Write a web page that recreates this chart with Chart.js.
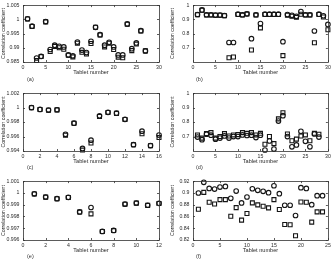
<!DOCTYPE html>
<html>
<head>
<meta charset="utf-8">
<script src="https://cdn.jsdelivr.net/npm/chart.js@4.4.0/dist/chart.umd.min.js"></script>
<style>
  body { margin: 0; background: #fff; width: 333px; height: 265px; position: relative; overflow: hidden;
         font-family: "Liberation Sans", Arial, sans-serif; }
  canvas { position: absolute; }
  .tag { position: absolute; font-size: 5.5px; color: #333; line-height: 6px; }
</style>
</head>
<body>
<canvas id="pa" width="165" height="88" style="left:0;top:0"></canvas>
<canvas id="pb" width="168" height="88" style="left:165px;top:0"></canvas>
<canvas id="pc" width="165" height="88" style="left:0;top:88px"></canvas>
<canvas id="pd" width="168" height="88" style="left:165px;top:88px"></canvas>
<canvas id="pe" width="165" height="88" style="left:0;top:176px"></canvas>
<canvas id="pf" width="168" height="88" style="left:165px;top:176px"></canvas>
<div class="tag" style="left:27px;top:76px">(a)</div>
<div class="tag" style="left:196px;top:76px">(b)</div>
<div class="tag" style="left:27px;top:164px">(c)</div>
<div class="tag" style="left:196px;top:164px">(d)</div>
<div class="tag" style="left:27px;top:253px">(e)</div>
<div class="tag" style="left:196px;top:253px">(f)</div>
<script>
// panel (a)
const tabletA = [1,2,3,4,5,6,7,8,9,10,11,12,13,14,15,16,17,18,19,20,21,22,23,24,25,26,27];
const circA = [1.0002,0.9976,0.9864,0.9870,0.9992,0.9894,0.9909,0.9905,0.9903,0.9875,0.9872,0.9920,0.9892,0.9883,0.9923,0.9972,0.9946,0.9909,0.9919,0.9903,0.9875,0.9875,0.9984,0.9897,0.9917,0.9960,0.9889];
const sqA   = [1.0001,0.9975,0.9855,0.9869,0.9991,0.9887,0.9905,0.9900,0.9895,0.9874,0.9868,0.9916,0.9884,0.9878,0.9915,0.9972,0.9945,0.9903,0.9916,0.9894,0.9867,0.9865,0.9983,0.9890,0.9913,0.9959,0.9889];
const xTicksA = [0,5,10,15,20,25,30];
const yTicksA = [0.985,0.99,0.995,1,1.005];

// panel (b)
const tabletB = [1,2,3,4,5,6,7,8,9,10,11,12,13,14,15,16,17,18,19,20,21,22,23,24,25,26,27,28,29,30];
const circB = [0.934,0.966,0.932,0.932,0.930,0.930,0.927,0.737,0.737,0.936,0.932,0.939,0.764,0.932,0.870,0.936,0.936,0.936,0.936,0.743,0.934,0.928,0.921,0.955,0.932,0.932,0.818,0.936,0.925,0.864];
const sqB   = [0.932,0.964,0.930,0.930,0.929,0.929,0.925,0.630,0.635,0.934,0.930,0.937,0.684,0.930,0.840,0.934,0.934,0.934,0.934,0.645,0.929,0.922,0.914,0.936,0.930,0.930,0.735,0.934,0.916,0.827];
const xTicksB = [0,5,10,15,20,25,30];
const yTicksB = [0.7,0.8,0.9,1];

// panel (c)
const tabletC = [1,2,3,4,5,6,7,8,9,10,11,12,13,14,15,16];
const circC = [1.0000,0.99975,0.99966,0.99970,0.99630,0.99785,0.99435,0.99550,0.99886,0.99935,0.99922,0.99838,0.99488,0.99674,0.99475,0.99621];
const sqC   = [0.99997,0.99973,0.99964,0.99968,0.99617,0.99783,0.99413,0.99510,0.99877,0.99933,0.99920,0.99836,0.99486,0.99639,0.99473,0.99586];
const xTicksC = [0,2,4,6,8,10,12,14,16];
const yTicksC = [0.994,0.996,0.998,1,1.002];

// panel (d)
const tabletD = [1,2,3,4,5,6,7,8,9,10,11,12,13,14,15,16,17,18,19,20,21,22,23,24,25,26,27,28];
const circD = [0.696,0.678,0.716,0.709,0.682,0.689,0.704,0.689,0.700,0.700,0.711,0.707,0.709,0.693,0.709,0.607,0.669,0.613,0.807,0.844,0.700,0.629,0.642,0.736,0.667,0.629,0.718,0.696];
const sqD   = [0.711,0.689,0.720,0.727,0.689,0.700,0.720,0.704,0.711,0.713,0.727,0.722,0.727,0.711,0.722,0.647,0.700,0.651,0.822,0.864,0.718,0.671,0.682,0.704,0.711,0.671,0.722,0.716];
const xTicksD = [0,5,10,15,20,25,30];
const yTicksD = [0.7,0.8,0.9,1];

// panel (e)
const tabletE = [1,2,3,4,5,6,7,8,9,10,11,12];
const circE = [0.99992,0.99965,0.99951,0.99962,0.99838,0.99876,0.99673,0.99681,0.99905,0.99914,0.99895,0.99911];
const sqE   = [0.99991,0.99964,0.99950,0.99961,0.99837,0.99822,0.99672,0.99680,0.99904,0.99913,0.99894,0.99910];
const xTicksE = [0,2,4,6,8,10,12];
const yTicksE = [0.996,0.997,0.998,0.999,1,1.001];

// panel (f)
const tabletF = [1,2,3,4,5,6,7,8,9,10,11,12,13,14,15,16,17,18,19,20,21,22,23,24];
const circF = [0.8998,0.9180,0.9076,0.9065,0.9099,0.9110,0.8908,0.9031,0.8829,0.8930,0.9070,0.9043,0.9026,0.9003,0.9121,0.8987,0.8790,0.8790,0.8616,0.9088,0.9076,0.8800,0.8953,0.8953];
const sqF   = [0.8722,0.9009,0.8840,0.8812,0.8885,0.8885,0.8604,0.8750,0.8537,0.8650,0.8830,0.8796,0.8773,0.8745,0.8885,0.8717,0.8464,0.8458,0.8273,0.8846,0.8840,0.8503,0.8678,0.8678];
const xTicksF = [0,5,10,15,20,25];
const yTicksF = [0.82,0.84,0.86,0.88,0.9,0.92];

const ink = '#151515';
const textCol = '#2a2a2a';

// box around plot area with inward tick marks on all four sides (matlab look)
const boxPlugin = {
  id: 'box',
  afterDraw(chart) {
    const {ctx, chartArea: a, scales} = chart;
    ctx.save();
    ctx.strokeStyle = '#333';
    ctx.lineWidth = 0.8;
    ctx.strokeRect(Math.round(a.left) + 0.5, Math.round(a.top) + 0.5,
                   Math.round(a.right - a.left), Math.round(a.bottom - a.top));
    ctx.beginPath();
    scales.x.ticks.forEach(t => {
      const px = Math.round(scales.x.getPixelForValue(t.value)) + 0.5;
      ctx.moveTo(px, a.bottom); ctx.lineTo(px, a.bottom - 2);
      ctx.moveTo(px, a.top); ctx.lineTo(px, a.top + 2);
    });
    scales.y.ticks.forEach(t => {
      const py = Math.round(scales.y.getPixelForValue(t.value)) + 0.5;
      ctx.moveTo(a.left, py); ctx.lineTo(a.left + 2, py);
      ctx.moveTo(a.right, py); ctx.lineTo(a.right - 2, py);
    });
    ctx.stroke();
    ctx.restore();
  }
};

function fmt(v) {
  return String(Number(v.toFixed(5)));
}

function makePanel(id, xs, circ, sq, xTicks, yTicks, yMin, yMax, geo) {
  const toPts = ys => xs.map((x, i) => ({x: x, y: ys[i]}));
  new Chart(document.getElementById(id), {
    type: 'scatter',
    data: {
      datasets: [
        { data: toPts(circ), pointStyle: 'circle', pointRadius: 2.3, borderWidth: 1.1,
          borderColor: ink, backgroundColor: 'rgba(0,0,0,0)', clip: false },
        { data: toPts(sq), pointStyle: 'rect', pointRadius: 2.8, borderWidth: 1.1,
          borderColor: ink, backgroundColor: 'rgba(0,0,0,0)', clip: false }
      ]
    },
    options: {
      responsive: false,
      animation: false,
      events: [],
      layout: { padding: { left: 0, top: geo.top, right: geo.right, bottom: geo.bottom } },
      plugins: { legend: { display: false }, tooltip: { enabled: false } },
      scales: {
        x: {
          type: 'linear',
          min: xTicks[0],
          max: xTicks[xTicks.length - 1],
          grid: { display: false, drawTicks: false },
          border: { display: false },
          afterBuildTicks: s => { s.ticks = xTicks.map(v => ({value: v})); },
          afterFit: s => { s.height = 14.3; s.paddingLeft = 0; s.paddingRight = 0; },
          ticks: { font: { size: 5.2, family: 'Liberation Sans' }, color: textCol, padding: 2,
                   maxRotation: 0, callback: v => fmt(v) },
          title: { display: true, text: 'Tablet number', color: textCol, padding: 0,
                   font: { size: 5.6, family: 'Liberation Sans' } }
        },
        y: {
          type: 'linear',
          min: yMin,
          max: yMax,
          grid: { display: false, drawTicks: false },
          border: { display: false },
          afterBuildTicks: s => { s.ticks = yTicks.map(v => ({value: v})); },
          afterFit: s => { s.width = geo.yw; s.paddingTop = 0; s.paddingBottom = 0; },
          ticks: { font: { size: 5.2, family: 'Liberation Sans' }, color: textCol, padding: 3.5,
                   callback: v => fmt(v) },
          title: { display: true, text: 'Correlation coefficient', color: textCol,
                   padding: { top: geo.tpad, bottom: 0 },
                   font: { size: 5.3, family: 'Liberation Sans' } }
        }
      }
    },
    plugins: [boxPlugin]
  });
}

makePanel('pa', tabletA, circA, sqA, xTicksA, yTicksA, 0.985, 1.005, {top: 4, right: 6, bottom: 11.7, yw: 23, tpad: 0.6});
makePanel('pb', tabletB, circB, sqB, xTicksB, yTicksB, 0.6, 1, {top: 4, right: 4, bottom: 11.7, yw: 28, tpad: 4.5});
makePanel('pc', tabletC, circC, sqC, xTicksC, yTicksC, 0.994, 1.002, {top: 5, right: 6, bottom: 10.7, yw: 23, tpad: 0.6});
makePanel('pd', tabletD, circD, sqD, xTicksD, yTicksD, 0.6, 1, {top: 5, right: 4, bottom: 10.7, yw: 28, tpad: 4.5});
makePanel('pe', tabletE, circE, sqE, xTicksE, yTicksE, 0.996, 1.001, {top: 5, right: 6, bottom: 9.7, yw: 23, tpad: 0.6});
makePanel('pf', tabletF, circF, sqF, xTicksF, yTicksF, 0.82, 0.92, {top: 5, right: 5, bottom: 9.7, yw: 28, tpad: 4.5});
</script>
</body>
</html>
